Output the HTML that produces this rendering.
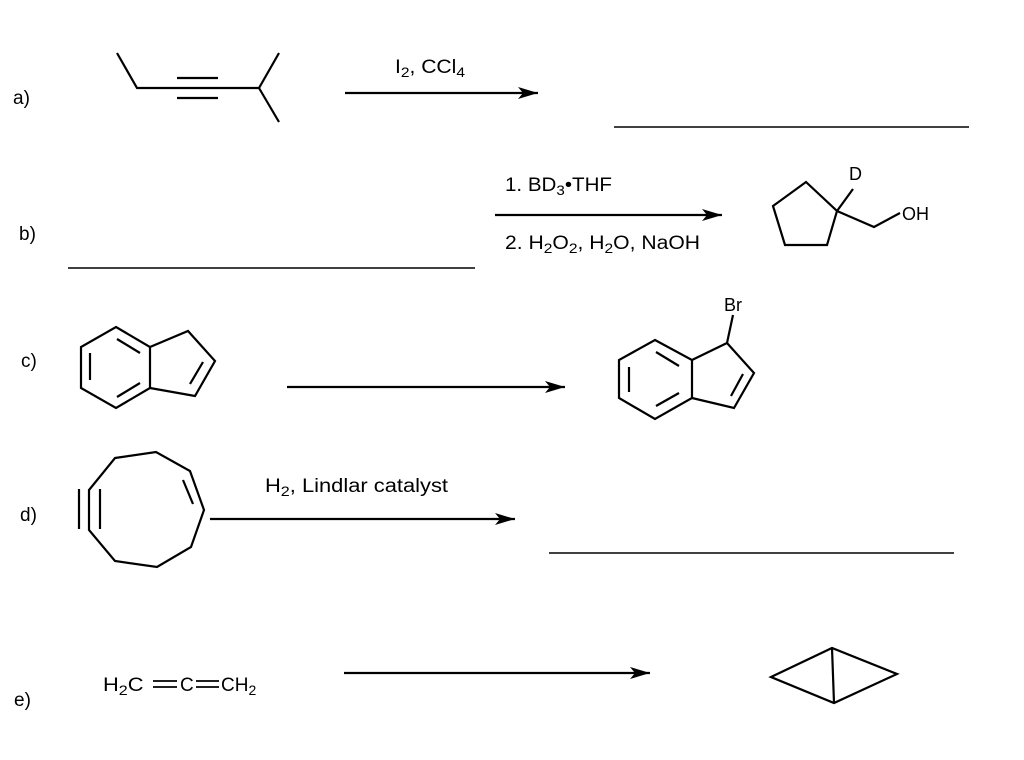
<!DOCTYPE html>
<html><head><meta charset="utf-8"><style>
html,body{margin:0;padding:0;background:#fff;}
svg{display:block;}
text{font-family:"Liberation Sans",Arial,sans-serif;fill:#000;}
</style></head><body>
<svg width="1024" height="760" viewBox="0 0 1024 760" xmlns="http://www.w3.org/2000/svg">
<defs>
<marker id="ah" markerWidth="20" markerHeight="12" refX="20" refY="6" orient="auto" markerUnits="userSpaceOnUse">
<path d="M0,0 L20,6 L0,12 L5,6 Z" fill="#000"/>
</marker>
</defs>
<g stroke="#000" stroke-width="2.2" fill="none" stroke-linejoin="miter" stroke-linecap="butt">
<polyline points="117,53 137,88 259,88 279,53"/>
<line x1="259" y1="88" x2="279" y2="122"/>
<line x1="177" y1="78" x2="218" y2="78"/>
<line x1="177" y1="98" x2="218" y2="98"/>
<line x1="345" y1="93" x2="538" y2="93" marker-end="url(#ah)"/>
<line x1="614" y1="127" x2="969" y2="127" stroke-width="1.5"/>
<line x1="495" y1="215" x2="722" y2="215" marker-end="url(#ah)"/>
<line x1="68" y1="268" x2="475" y2="268" stroke-width="1.5"/>
<polygon points="806,182 837,211 827,245 785,245 773,206"/>
<line x1="837" y1="211" x2="853" y2="189"/>
<polyline points="837,211 874,227 900,213"/>
<polygon points="116,327 150,347 150,388 116,408 81,388 81,347"/>
<polyline points="150,347 188,331 215,361 195,396 150,388"/>
<line x1="117" y1="339" x2="140" y2="353"/>
<line x1="90" y1="353" x2="90" y2="380"/>
<line x1="117" y1="397" x2="140" y2="383"/>
<line x1="203" y1="362" x2="190" y2="384"/>
<line x1="287" y1="387" x2="565" y2="387" marker-end="url(#ah)"/>
<polygon points="655,340 692,360 692,398 655,419 619,398 619,360"/>
<polyline points="692,360 727,343 754,373 734,408 692,398"/>
<line x1="727" y1="343" x2="733" y2="315"/>
<line x1="656" y1="352" x2="679" y2="366"/>
<line x1="629" y1="367" x2="629" y2="392"/>
<line x1="656" y1="406" x2="679" y2="393"/>
<line x1="743" y1="374" x2="731" y2="396"/>
<polygon points="115,458 156,452 190,471 204,510 191,547 157,567 115,561 89,530 89,490"/>
<line x1="79" y1="489" x2="79" y2="529"/>
<line x1="100" y1="489" x2="100" y2="529"/>
<line x1="183" y1="480" x2="193" y2="504"/>
<line x1="210" y1="519" x2="515" y2="519" marker-end="url(#ah)"/>
<line x1="549" y1="553" x2="954" y2="553" stroke-width="1.5"/>
<line x1="344" y1="673" x2="650" y2="673" marker-end="url(#ah)"/>
<polygon points="771,677 832,648 897,674 834,703"/>
<line x1="832" y1="648" x2="834" y2="703"/>
<line x1="153" y1="681" x2="177" y2="681" stroke-width="1.8"/>
<line x1="153" y1="687" x2="177" y2="687" stroke-width="1.8"/>
<line x1="196" y1="681" x2="219" y2="681" stroke-width="1.8"/>
<line x1="196" y1="687" x2="219" y2="687" stroke-width="1.8"/>
</g>
<g font-size="19">
<text x="13" y="104">a)</text>
<text x="19" y="240">b)</text>
<text x="21" y="367">c)</text>
<text x="20" y="521">d)</text>
<text x="14" y="706">e)</text>
<text x="395" y="73" textLength="70" lengthAdjust="spacingAndGlyphs">I<tspan font-size="14" dy="4">2</tspan><tspan dy="-4">, CCl</tspan><tspan font-size="14" dy="4">4</tspan></text>
<text x="505" y="191" textLength="107" lengthAdjust="spacingAndGlyphs">1. BD<tspan font-size="14" dy="4">3</tspan><tspan dy="-4">•THF</tspan></text>
<text x="505" y="249" textLength="195" lengthAdjust="spacingAndGlyphs">2. H<tspan font-size="14" dy="4">2</tspan><tspan dy="-4">O</tspan><tspan font-size="14" dy="4">2</tspan><tspan dy="-4">, H</tspan><tspan font-size="14" dy="4">2</tspan><tspan dy="-4">O, NaOH</tspan></text>
<text x="265" y="492" textLength="183" lengthAdjust="spacingAndGlyphs">H<tspan font-size="14" dy="4">2</tspan><tspan dy="-4">, Lindlar catalyst</tspan></text>
<text transform="translate(103,691) scale(1.15,1)">H<tspan font-size="14" dy="4">2</tspan><tspan dy="-4">C</tspan></text>
<text x="180" y="691">C</text>
<text x="221" y="691">CH<tspan font-size="14" dy="4">2</tspan></text>
</g>
<g font-size="18">
<text x="849" y="180">D</text>
<text x="902" y="220">OH</text>
<text x="724" y="311">Br</text>
</g>
</svg>
</body></html>
